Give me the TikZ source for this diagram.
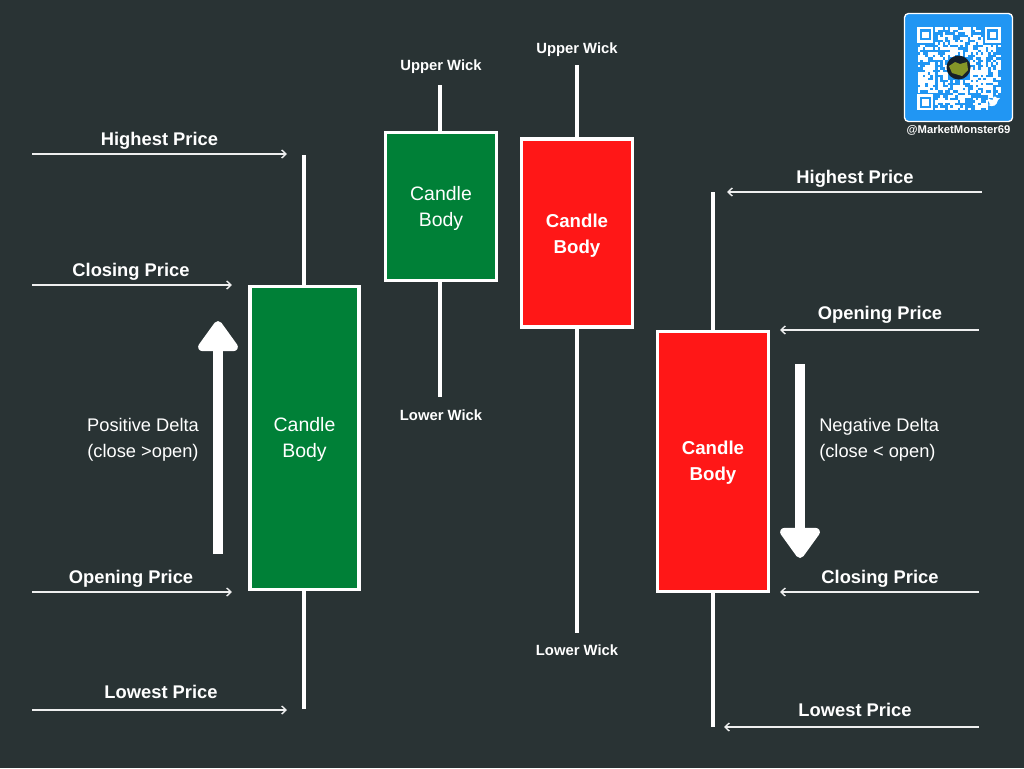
\documentclass[tikz,border=0pt]{standalone}
\usepackage{fontspec}
\setmainfont{Liberation Sans}
\usetikzlibrary{arrows.meta}
\definecolor{slatebg}{RGB}{41,51,52}
\definecolor{candlegreen}{RGB}{0,128,55}
\definecolor{candlered}{RGB}{255,23,23}
\definecolor{qrblue}{RGB}{33,150,243}
\definecolor{picdark}{RGB}{22,32,42}
\definecolor{picleaf}{RGB}{132,150,40}
\newcommand{\bodytext}[1]{\rule{0pt}{#1}Candle\\Body}
\tikzset{
  candle/.style={draw=white,line width=2.7pt,inner sep=0pt,align=center,text=white,font=\fontsize{14.6}{19.5}\selectfont},
  candlebold/.style={candle,font=\fontsize{14}{19.5}\selectfont\bfseries},
  wick/.style={draw=white,line width=2.5pt},
  pricearrow/.style={draw=white!92!slatebg,line width=1.05pt,-{Straight Barb[length=3.2pt,width=6pt]}},
  deltaarrow/.style={draw=white,line width=7.5pt,-{Triangle[length=25pt,width=34pt,round]}},
  pricelabel/.style={text=white,inner sep=0pt,font=\fontsize{13.75}{16}\selectfont\bfseries},
  wicklabel/.style={text=white,inner sep=0pt,font=\fontsize{11.1}{13}\selectfont\bfseries},
  deltalabel/.style={text=white,inner sep=0pt,font=\fontsize{13.7}{19.5}\selectfont},
}
\begin{document}
\begin{tikzpicture}[x=0.75pt,y=0.75pt,yscale=-1,xscale=1]
\useasboundingbox (0,0) rectangle (1024,768);
\fill [slatebg] (0,0) rectangle (1024,768);

% Candle bodies
\node [candle,fill=candlegreen,minimum width=82pt,minimum height=227pt] (bodyA) at (304.5,438) {\bodytext{13.5pt}};
\node [candle,fill=candlegreen,minimum width=83pt,minimum height=111pt] (bodyB) at (441,206.5) {\bodytext{13.5pt}};
\node [candlebold,fill=candlered,minimum width=83pt,minimum height=141pt] (bodyC) at (577,233) {\bodytext{13.5pt}};
\node [candlebold,fill=candlered,minimum width=83pt,minimum height=195pt] (bodyD) at (713,461.5) {\bodytext{12pt}};

% Wick ends
\coordinate (topA) at (304,155);
\coordinate (lowA) at (304,709);
\coordinate (topB) at (440,85);
\coordinate (lowB) at (440,397);
\coordinate (topC) at (577,65);
\coordinate (lowC) at (577,633);
\coordinate (topD) at (713,192);
\coordinate (lowD) at (713,727);
\draw [wick] (topA) -- (bodyA.north -| topA);
\draw [wick] (bodyA.south -| lowA) -- (lowA);
\draw [wick] (topB) -- (bodyB.north -| topB);
\draw [wick] (bodyB.south -| lowB) -- (lowB);
\draw [wick] (topC) -- (bodyC.north -| topC);
\draw [wick] (bodyC.south -| lowC) -- (lowC);
\draw [wick] (topD) -- (bodyD.north -| topD);
\draw [wick] (bodyD.south -| lowD) -- (lowD);

% Price arrows, left
\coordinate (hiA0) at (32,154);
\coordinate (hiA1) at (287,154);
\coordinate (clA0) at (32,285);
\coordinate (clA1) at (232,285);
\coordinate (opA0) at (32,592);
\coordinate (opA1) at (232,592);
\coordinate (loA0) at (32,710);
\coordinate (loA1) at (287,710);
\draw [pricearrow] (hiA0) -- (hiA1);
\draw [pricearrow] (clA0) -- (clA1);
\draw [pricearrow] (opA0) -- (opA1);
\draw [pricearrow] (loA0) -- (loA1);

% Price arrows, right
\coordinate (hiD0) at (982,192);
\coordinate (hiD1) at (727,192);
\coordinate (opD0) at (979,330);
\coordinate (opD1) at (780,330);
\coordinate (clD0) at (979,592);
\coordinate (clD1) at (780,592);
\coordinate (loD0) at (979,727);
\coordinate (loD1) at (724,727);
\draw [pricearrow] (hiD0) -- (hiD1);
\draw [pricearrow] (opD0) -- (opD1);
\draw [pricearrow] (clD0) -- (clD1);
\draw [pricearrow] (loD0) -- (loD1);

% Delta arrows
\coordinate (posA) at (218,554);
\coordinate (posB) at (218,321);
\coordinate (negA) at (800,364);
\coordinate (negB) at (800,558);
\draw [deltaarrow] (posA) -- (posB);
\draw [deltaarrow] (negA) -- (negB);

% Text Node
\node [pricelabel] (hiTextA) at (159.5,141) {Highest Price};
\node [pricelabel] (clTextA) at (131,272) {Closing Price};
\node [pricelabel] (opTextA) at (131,579) {Opening Price};
\node [pricelabel] (loTextA) at (161,692) {Lowest Price};
\node [pricelabel] (hiTextD) at (855,179) {Highest Price};
\node [pricelabel] (opTextD) at (880,315) {Opening Price};
\node [pricelabel] (clTextD) at (880,579) {Closing Price};
\node [pricelabel] (loTextD) at (855,710) {Lowest Price};
\node [wicklabel] (upTextB) at (441,67) {Upper Wick};
\node [wicklabel] (lowTextB) at (441,415) {Lower Wick};
\node [wicklabel] (upTextC) at (577,50) {Upper Wick};
\node [wicklabel] (lowTextC) at (577,650) {Lower Wick};
\node [deltalabel,align=center] (posText) at (143,440) {Positive Delta\\(close >open)};
\node [deltalabel,align=left,anchor=west] (negText) at (819,440) {Negative Delta\\(close < open)};

% QR badge
\draw [draw=white,line width=1pt,fill=qrblue,rounded corners=3pt] (904.5,13.5) rectangle (1012.5,121.5);
\pgfmathsetseed{69}
\foreach \i in {0,...,32}
  \foreach \j in {0,...,32} {
    \pgfmathtruncatemacro{\keep}{(rnd<0.55)*!(\i<7 && \j<7)*!(\i>25 && \j<7)*!(\i<7 && \j>25)*!(\i>11 && \i<21 && \j>11 && \j<21)*!(\i>27 && \j>27)}
    \ifnum\keep=1
      \fill [white] (917.5+\i*2.52,27+\j*2.52) rectangle ++(2.62,2.62);
    \fi
  }
\foreach \qx/\qy in {917.5/27,985/27,917.5/94.5} {
  \draw [white,line width=1.7pt] (\qx+1.1,\qy+1.1) rectangle ++(13.4,13.4);
  \fill [white] (\qx+4.5,\qy+4.5) rectangle ++(6.7,6.7);
}
% centre picture and bird
\fill [picdark] (958.5,67.5) circle (12);
\fill [picleaf] (949,66) -- (955,62) -- (960,64) -- (967,62) -- (968,70) -- (962,76) -- (952,73) -- cycle;
\fill [white] (988,105) .. controls (993,108) and (997,105) .. (998,100) -- (1000,98) -- (997,98) .. controls (995,95) and (992,97) .. (993,100) .. controls (991,100) and (989,99) .. (988,98) .. controls (987,100) and (988,102) .. (989,102) .. controls (989,104) and (990,104) .. (991,104) .. controls (990,105) .. (988,105) -- cycle;
\node [text=white,inner sep=0pt,font=\fontsize{8.45}{9}\selectfont\bfseries] (handle) at (958.5,130) {@MarketMonster69};
\end{tikzpicture}
\end{document}
